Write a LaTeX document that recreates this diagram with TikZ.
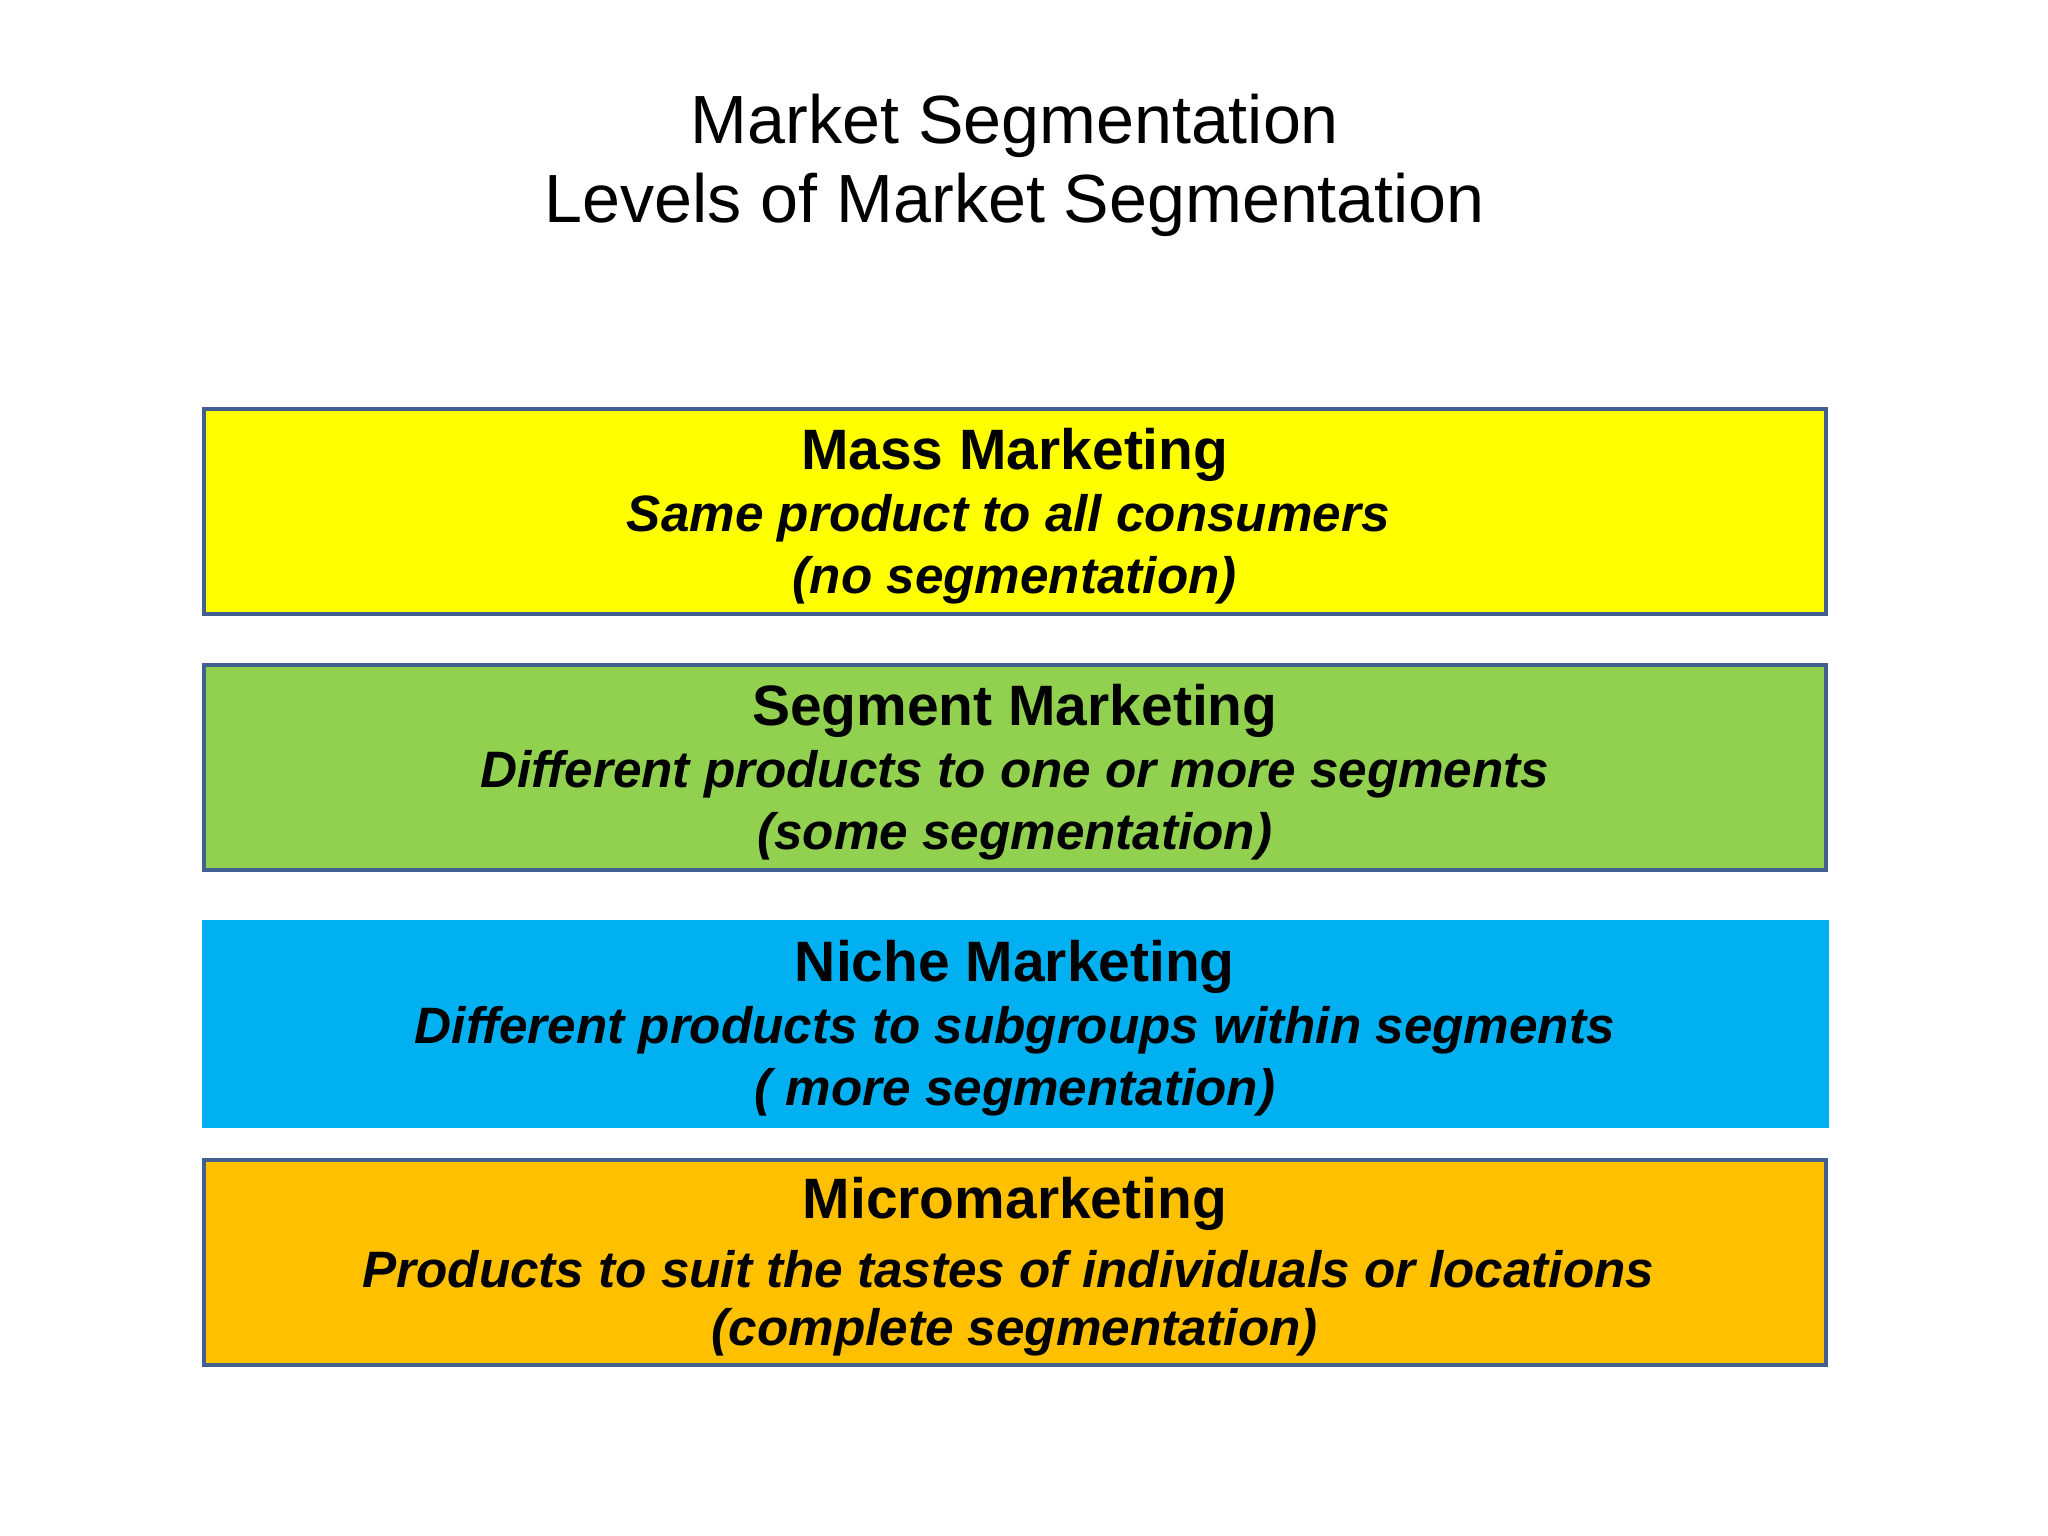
\documentclass[tikz,border=0pt]{standalone}
\usepackage{fontspec}
\setmainfont{Liberation Sans}
\definecolor{bord}{HTML}{41608F}
\definecolor{cyel}{HTML}{FFFF00}
\definecolor{cgrn}{HTML}{92D050}
\definecolor{cblu}{HTML}{00B0F0}
\definecolor{corg}{HTML}{FFC000}
\tikzset{
 lvl/.style={line width=0.03cm},
 ttl/.style={font=\fontsize{14.85pt}{18pt}\selectfont},
 hd/.style={font=\fontsize{12.4pt}{15pt}\selectfont\bfseries},
 it/.style={font=\fontsize{11.15pt}{14pt}\selectfont\bfseries\itshape}
}
\begin{document}
\begin{tikzpicture}[x=0.01cm,y=-0.01cm]
\useasboundingbox (0,0) rectangle (1568,1176);
\node[ttl] (t1) at (777,96) {Market Segmentation};
\node[ttl] (t2) at (777,157) {Levels of Market Segmentation};
\draw[lvl,bord,fill=cyel] (156,313) rectangle (1398,470);
\node[hd] (a1) at (777,348) {Mass Marketing};
\node[it] (a2) at (772,397) {Same product to all consumers};
\node[it] (a3) at (777,444) {(no segmentation)};
\draw[lvl,bord,fill=cgrn] (156,509) rectangle (1398,666);
\node[hd] (b1) at (777,544) {Segment Marketing};
\node[it] (b2) at (777,593) {Different products to one or more segments};
\node[it] (b3) at (777,640) {(some segmentation)};
\fill[cblu] (155,704) rectangle (1400,864);
\node[hd] (c1) at (777,740) {Niche Marketing};
\node[it] (c2) at (777,789) {Different products to subgroups within segments};
\node[it] (c3) at (777,836) {( more segmentation)};
\draw[lvl,bord,fill=corg] (156,888) rectangle (1398,1045);
\node[hd] (d1) at (777,922) {Micromarketing};
\node[it] (d2) at (772,972) {Products to suit the tastes of individuals or locations};
\node[it] (d3) at (777,1020) {(complete segmentation)};
\end{tikzpicture}
\end{document}
